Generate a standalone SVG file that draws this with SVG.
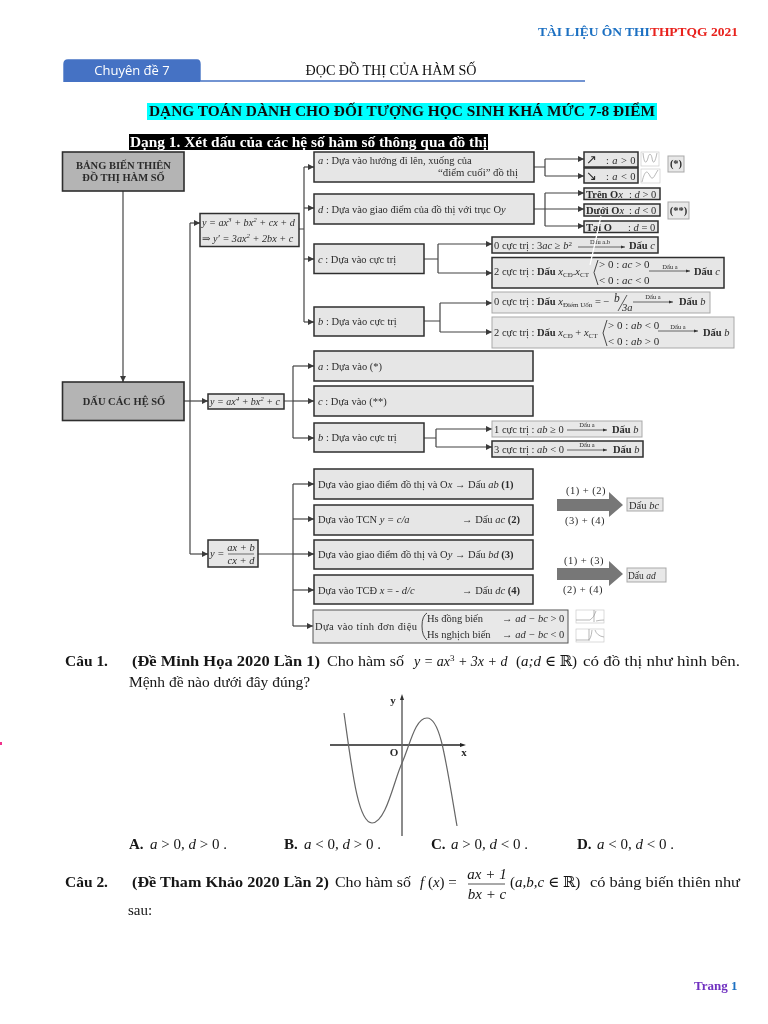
<svg xmlns="http://www.w3.org/2000/svg" width="768" height="1024" viewBox="0 0 768 1024">
<style>
text{font-family:"Liberation Serif","DejaVu Serif",serif;fill:#2b2b2b;font-size:10.5px}
.b{font-weight:bold}
.i{font-style:italic}
.n{font-weight:normal}
.sub{font-size:7px}
.tiny{font-size:6.5px;text-anchor:middle}
.hd{font-size:14px;fill:#111}
.body{font-size:15px;fill:#151515}
.box{fill:#e6e6e6;stroke:#2e2e2e;stroke-width:1.5}
.lite{fill:#e8e8e8;stroke:#a9a9a9;stroke-width:1}
.main{fill:#b4b4b4;stroke:#2e2e2e;stroke-width:1.6}
.ln{fill:none;stroke:#444;stroke-width:1.2}
.ah{fill:none;stroke:#444;stroke-width:1.2;marker-end:url(#a)}
.thin{fill:none;stroke:#444;stroke-width:.8;marker-end:url(#s)}
.ic{fill:#fff;stroke:#ccc;stroke-width:.7}
.icl{fill:none;stroke:#999;stroke-width:.7}
.br{fill:none;stroke:#333;stroke-width:.9}
.fat{fill:#777}
</style>
<defs>
<filter id="soft" x="0" y="0" width="100%" height="100%"><feGaussianBlur stdDeviation="0.35"/></filter>
<marker id="a" markerUnits="userSpaceOnUse" markerWidth="6" markerHeight="6" refX="6" refY="3" orient="auto"><path d="M0,0L6,3L0,6Z" fill="#3a3a3a"/></marker>
<marker id="s" markerUnits="userSpaceOnUse" markerWidth="4" markerHeight="4" refX="4" refY="2" orient="auto"><path d="M0,.5L4,2L0,3.5Z" fill="#333"/></marker>
</defs>
<rect width="768" height="1024" fill="#fff"/>
<g filter="url(#soft)">
<g id="header">
<text x="538" y="36" class="b" style="font-size:13.500px;fill:#1b6fc2" textLength="200" lengthAdjust="spacingAndGlyphs">TÀI LIỆU ÔN THI<tspan style="fill:#e8201c">THPTQG 2021</tspan></text>
<path d="M64,82V64Q64,60 68,60H197Q200,60 200,64V81H585" fill="none" stroke="#4472c4" stroke-width="1.4"/>
<path d="M64,82V64Q64,60 68,60H197Q200,60 200,64V82Z" fill="#4472c4"/>
<text x="132" y="75" text-anchor="middle" style="font-family:'Open Sans','DejaVu Sans',sans-serif;font-size:13px;fill:#fff">Chuyên đề 7</text>
<text x="391" y="75" text-anchor="middle" class="hd" textLength="171" lengthAdjust="spacingAndGlyphs">ĐỌC ĐỒ THỊ CỦA HÀM SỐ</text>
<rect x="147" y="103" width="510" height="17" fill="#00ffff"/>
<text x="402" y="116" text-anchor="middle" class="b" style="font-size:15px;fill:#111" textLength="506" lengthAdjust="spacingAndGlyphs">DẠNG TOÁN DÀNH CHO ĐỐI TƯỢNG HỌC SINH KHÁ MỨC 7-8 ĐIỂM</text>
<rect x="129" y="134" width="359" height="16" fill="#000"/>
<text x="130" y="147" class="b" style="font-size:15px;fill:#fff" textLength="357" lengthAdjust="spacingAndGlyphs">Dạng 1. Xét dấu của các hệ số hàm số thông qua đồ thị</text>
</g>

<g id="connectors">
<path class="ah" d="M123,191V382"/>
<path class="ln" d="M190,223V554"/>
<path class="ah" d="M190,223H200"/>
<path class="ah" d="M184,401H208"/>
<path class="ah" d="M190,554H208"/>
<path class="ln" d="M299,229H304M304,167V322"/>
<path class="ah" d="M304,167H314"/><path class="ah" d="M304,208H314"/><path class="ah" d="M304,259H314"/><path class="ah" d="M304,322H314"/>
<path class="ln" d="M284,401H293M293,366V438"/>
<path class="ah" d="M293,366H314"/><path class="ah" d="M293,401H314"/><path class="ah" d="M293,438H314"/>
<path class="ln" d="M258,554H293M293,484V626"/>
<path class="ah" d="M293,484H314"/><path class="ah" d="M293,519H314"/><path class="ah" d="M293,554H314"/><path class="ah" d="M293,590H314"/><path class="ah" d="M293,626H313"/>
<path class="ln" d="M534,167H545M545,159V176"/>
<path class="ah" d="M545,159H584"/><path class="ah" d="M545,176H584"/>
<path class="ln" d="M534,209H545M545,193V226"/>
<path class="ah" d="M545,193H584"/><path class="ah" d="M545,209H584"/><path class="ah" d="M545,226H584"/>
<path class="ln" d="M424,259H438M438,244V273"/>
<path class="ah" d="M438,244H492"/><path class="ah" d="M438,273H492"/>
<path class="ln" d="M424,321H440M440,303V332"/>
<path class="ah" d="M440,303H492"/><path class="ah" d="M440,332H492"/>
<path class="ln" d="M424,438H436M436,429V447"/>
<path class="ah" d="M436,429H492"/><path class="ah" d="M436,447H492"/>
</g>

<g id="n-bbt"><rect class="main" x="62.500" y="152" width="121.500" height="39"/>
<text x="123.500" y="169" text-anchor="middle" class="b">BẢNG BIẾN THIÊN</text><text x="123.500" y="181" text-anchor="middle" class="b">ĐỒ THỊ HÀM SỐ</text></g>
<g id="n-dau"><rect class="main" x="62.500" y="382" width="121.500" height="38.500"/>
<text x="124" y="405" text-anchor="middle" class="b">DẤU CÁC HỆ SỐ</text></g>

<g id="n-f1"><rect class="box" x="200" y="213.500" width="99" height="33"/>
<text x="202" y="226" class="i" style="font-size:10.200px">y = ax<tspan dy="-4" style="font-size:7px">3</tspan><tspan dy="4"> + bx</tspan><tspan dy="-4" style="font-size:7px">2</tspan><tspan dy="4"> + cx + d</tspan></text>
<text x="202" y="242" class="i" style="font-size:10.200px">⇒ y′ = 3ax<tspan dy="-4" style="font-size:7px">2</tspan><tspan dy="4"> + 2bx + c</tspan></text></g>
<g id="n-f2"><rect class="box" x="208" y="394" width="76" height="15"/>
<text x="210" y="405" class="i" style="font-size:10px">y = ax<tspan dy="-4" style="font-size:7px">4</tspan><tspan dy="4"> + bx</tspan><tspan dy="-4" style="font-size:7px">2</tspan><tspan dy="4"> + c</tspan></text></g>
<g id="n-f3"><rect class="box" x="208" y="540" width="50" height="27"/>
<text x="210" y="557" class="i">y =</text><path d="M228,554H254" stroke="#333" stroke-width=".7"/>
<text x="241" y="551" class="i" text-anchor="middle">ax + b</text><text x="241" y="564" class="i" text-anchor="middle">cx + d</text></g>

<g id="n-a"><rect class="box" x="314" y="152" width="220" height="30"/>
<text x="318" y="164"><tspan class="i">a</tspan> : Dựa vào hướng đi lên, xuống của</text><text x="438" y="176" textLength="80" lengthAdjust="spacingAndGlyphs">“điểm cuối” đồ thị</text></g>
<g id="n-d"><rect class="box" x="314" y="194" width="220" height="30"/>
<text x="318" y="213"><tspan class="i">d</tspan> : Dựa vào giao điểm của đồ thị với trục O<tspan class="i">y</tspan></text></g>
<g id="n-c"><rect class="box" x="314" y="244" width="110" height="29.500"/>
<text x="318" y="263"><tspan class="i">c</tspan> : Dựa vào cực trị</text></g>
<g id="n-b"><rect class="box" x="314" y="307" width="110" height="29"/>
<text x="318" y="325"><tspan class="i">b</tspan> : Dựa vào cực trị</text></g>

<g id="n-up"><rect class="box" x="584" y="152" width="54" height="15"/>
<text x="586" y="164" style="font-family:'DejaVu Sans',sans-serif;font-size:13px">↗</text><text x="606" y="164" style="letter-spacing:.4px">: <tspan class="i">a</tspan> &gt; 0</text></g>
<g id="n-down"><rect class="box" x="584" y="168" width="54" height="15"/>
<text x="586" y="180" style="font-family:'DejaVu Sans',sans-serif;font-size:13px">↘</text><text x="606" y="180" style="letter-spacing:.4px">: <tspan class="i">a</tspan> &lt; 0</text></g>
<g id="n-icons-a"><rect class="ic" x="641" y="152" width="18" height="14"/><path class="icl" d="M643,153C644,163 646,165 648,158C649,153 651,153 652,158C653,165 655,163 657,153"/>
<rect class="ic" x="641" y="169" width="19" height="14"/><path class="icl" d="M642,182C645,170 647,170 650,176C653,182 655,174 658,170"/></g>
<g id="n-star"><rect class="lite" x="668" y="156" width="16" height="16"/><text x="676" y="167" text-anchor="middle" class="b">(*)</text></g>
<g id="n-tren"><rect class="box" x="584" y="188" width="76" height="11.500"/><text x="586" y="197.500" class="b">Trên O<tspan class="i n">x</tspan></text><text x="629" y="197.500">: <tspan class="i">d</tspan> &gt; 0</text></g>
<g id="n-duoi"><rect class="box" x="584" y="204" width="76" height="12"/><text x="586" y="213.500" class="b">Dưới O<tspan class="i n">x</tspan></text><text x="629" y="213.500">: <tspan class="i">d</tspan> &lt; 0</text></g>
<g id="n-tai"><rect class="box" x="584" y="221" width="74" height="11.500"/><text x="586" y="230.500" class="b">Tại O</text><text x="628" y="230.500">: <tspan class="i">d</tspan> = 0</text></g>
<g id="n-star2"><rect class="lite" x="668" y="202" width="21" height="17"/><text x="678.500" y="214" text-anchor="middle" class="b">(**)</text></g>

<g id="n-c0"><rect class="box" x="492" y="237" width="166" height="16"/>
<text x="494" y="249">0 cực trị : 3<tspan class="i">ac</tspan> ≥ <tspan class="i">b</tspan><tspan dy="-3" style="font-size:7px">2</tspan></text>
<text x="600" y="244" class="tiny">Dấu a.b</text><path class="thin" d="M578,247H625"/>
<text x="629" y="249" class="b">Dấu <tspan class="i n">c</tspan></text></g>
<g id="n-c2"><rect class="box" x="492" y="257.500" width="232" height="30.500"/>
<text x="494" y="275">2 cực trị : <tspan class="b">Dấu</tspan> <tspan class="i">x</tspan><tspan class="sub" dy="2">CĐ</tspan><tspan dy="-2">.</tspan><tspan class="i">x</tspan><tspan class="sub" dy="2">CT</tspan></text>
<path class="br" d="M598,260L594,272.500L598,285"/>
<text x="599" y="268" style="font-size:11px">&gt; 0 : <tspan class="i">ac</tspan> &gt; 0</text><text x="599" y="283.500" style="font-size:11px">&lt; 0 : <tspan class="i">ac</tspan> &lt; 0</text>
<text x="670" y="269" class="tiny">Dấu a</text><path class="thin" d="M649,271H690"/>
<text x="694" y="275" class="b">Dấu <tspan class="i n">c</tspan></text></g>
<g id="n-b0"><rect class="lite" x="492" y="292" width="218" height="21"/>
<text x="494" y="305">0 cực trị : <tspan class="b">Dấu</tspan> <tspan class="i">x</tspan><tspan class="sub" dy="2">Điểm Uốn</tspan><tspan dy="-2"> = −</tspan></text>
<text x="614" y="302" class="i" style="font-size:11.500px">b</text><path d="M627,295L618,311" stroke="#333" stroke-width=".8"/><text x="622" y="311" class="i">3a</text>
<text x="653" y="299" class="tiny">Dấu a</text><path class="thin" d="M633,302H673"/>
<text x="679" y="305" class="b">Dấu <tspan class="i n">b</tspan></text></g>
<g id="n-b2"><rect class="lite" x="492" y="317" width="242" height="31"/>
<text x="494" y="336">2 cực trị : <tspan class="b">Dấu</tspan> <tspan class="i">x</tspan><tspan class="sub" dy="2">CĐ</tspan><tspan dy="-2"> + </tspan><tspan class="i">x</tspan><tspan class="sub" dy="2">CT</tspan></text>
<path class="br" d="M607,320L603,333L607,346"/>
<text x="608" y="329" style="font-size:11px">&gt; 0 : <tspan class="i">ab</tspan> &lt; 0</text><text x="608" y="344.500" style="font-size:11px">&lt; 0 : <tspan class="i">ab</tspan> &gt; 0</text>
<text x="678" y="329" class="tiny">Dấu a</text><path class="thin" d="M658,331H698"/>
<text x="703" y="336" class="b">Dấu <tspan class="i n">b</tspan></text></g>

<g id="n-a2"><rect class="box" x="314" y="351" width="219" height="30"/><text x="318" y="370"><tspan class="i">a</tspan> :  Dựa vào (*)</text></g>
<g id="n-c3"><rect class="box" x="314" y="386" width="219" height="30"/><text x="318" y="405"><tspan class="i">c</tspan> : Dựa vào (**)</text></g>
<g id="n-b3"><rect class="box" x="314" y="423" width="110" height="29"/><text x="318" y="441"><tspan class="i">b</tspan> : Dựa vào cực trị</text></g>
<g id="n-1ct"><rect class="lite" x="492" y="421" width="150" height="16"/>
<text x="494" y="433">1 cực trị : <tspan class="i">ab</tspan> ≥ 0</text><text x="587" y="427" class="tiny">Dấu a</text><path class="thin" d="M567,430H607"/><text x="612" y="433" class="b">Dấu <tspan class="i n">b</tspan></text></g>
<g id="n-3ct"><rect class="box" x="492" y="441" width="151" height="16"/>
<text x="494" y="453">3 cực trị : <tspan class="i">ab</tspan> &lt; 0</text><text x="587" y="447" class="tiny">Dấu a</text><path class="thin" d="M567,450H607"/><text x="613" y="453" class="b">Dấu <tspan class="i n">b</tspan></text></g>

<g id="n-r1"><rect class="box" x="314" y="469" width="219" height="30"/><text x="318" y="488">Dựa vào giao điểm đồ thị và O<tspan class="i">x</tspan> → Dấu <tspan class="i">ab</tspan>  <tspan class="b">(1)</tspan></text></g>
<g id="n-r2"><rect class="box" x="314" y="505" width="219" height="30"/><text x="318" y="523">Dựa vào TCN  <tspan class="i">y = c/a</tspan></text><text x="462" y="523">→ Dấu <tspan class="i">ac</tspan>  <tspan class="b">(2)</tspan></text></g>
<g id="n-r3"><rect class="box" x="314" y="540" width="219" height="29"/><text x="318" y="558">Dựa vào giao điểm đồ thị và O<tspan class="i">y</tspan> → Dấu <tspan class="i">bd</tspan>  <tspan class="b">(3)</tspan></text></g>
<g id="n-r4"><rect class="box" x="314" y="575" width="219" height="29"/><text x="318" y="594">Dựa vào TCĐ <tspan class="i">x</tspan> = - <tspan class="i">d/c</tspan></text><text x="462" y="594">→ Dấu <tspan class="i">dc</tspan>  <tspan class="b">(4)</tspan></text></g>
<g id="n-r5"><rect class="lite" x="313" y="610" width="255" height="33" style="stroke:#555"/>
<text x="315" y="630" textLength="102" lengthAdjust="spacing">Dựa vào tính đơn điệu</text>
<path class="br" d="M427,613Q422,616 422,626Q422,636 427,640"/>
<text x="427" y="622">Hs đồng biến</text><text x="502" y="622">→ <tspan class="i">ad − bc</tspan> &gt; 0</text>
<text x="427" y="638">Hs nghịch biến</text><text x="502" y="638">→ <tspan class="i">ad − bc</tspan> &lt; 0</text></g>
<g id="n-icons-r"><rect class="ic" x="576" y="610" width="28" height="13"/><path class="icl" d="M576,620H590Q594,618 596,611M594,610V622M596,621Q600,620 604,620"/>
<rect class="ic" x="576" y="629" width="28" height="13"/><path class="icl" d="M576,640H588Q591,640 592,630M589,629V641M595,630Q597,636 604,637"/></g>

<g id="n-arrow1">
<text x="586" y="494" text-anchor="middle" style="letter-spacing:.5px">(1) + (2)</text><text x="585" y="524" text-anchor="middle" style="letter-spacing:.5px">(3) + (4)</text>
<path class="fat" d="M557,499H609V492L623,505L609,517V511H557Z"/></g>
<g id="n-bc"><rect class="lite" x="627" y="498" width="36" height="13"/><text x="629" y="508.500">Dấu <tspan class="i">bc</tspan></text></g>
<g id="n-arrow2">
<text x="584" y="564" text-anchor="middle" style="letter-spacing:.5px">(1) + (3)</text><text x="583" y="593" text-anchor="middle" style="letter-spacing:.5px">(2) + (4)</text>
<path class="fat" d="M557,568H609V561L623,574L609,586V580H557Z"/></g>
<g id="n-ad"><rect class="lite" x="627" y="568" width="39" height="14"/><text x="628" y="578.500" style="font-size:9.500px">Dấu <tspan class="i">ad</tspan></text></g>

<path d="M601,216L593,252L590,265" fill="none" stroke="#fff" stroke-width="1.200"/>

<g id="cau1">
<text x="65" y="666" class="body b" textLength="43" lengthAdjust="spacingAndGlyphs">Câu 1.</text>
<text x="132" y="666" class="body b" textLength="188" lengthAdjust="spacingAndGlyphs">(Đề Minh Họa 2020 Lần 1)</text>
<text x="327" y="666" class="body" textLength="77" lengthAdjust="spacingAndGlyphs">Cho hàm số</text>
<text x="414" y="666" class="body i" style="font-size:14px">y = ax<tspan dy="-5" style="font-size:9px;font-style:normal">3</tspan><tspan dy="5"> + 3x + d</tspan></text>
<text x="516" y="666" class="body">(<tspan class="i">a;d</tspan> ∈ ℝ)</text>
<text x="583" y="666" class="body" textLength="157" lengthAdjust="spacingAndGlyphs">có đồ thị như hình bên.</text>
<text x="129" y="687" class="body" textLength="181" lengthAdjust="spacingAndGlyphs">Mệnh đề nào dưới đây đúng?</text>
</g>
<g id="graph">
<path d="M330,745H462" stroke="#222" stroke-width="1.300"/><path d="M466,745L460,743V747Z" fill="#222"/>
<path d="M402,836V698" stroke="#666" stroke-width="1.500"/><path d="M402,694L400,700H404Z" fill="#333"/>
<path d="M344,713C352,770 358,823 372,823C386,823 394,780 402,763C410,745 415,718 427,718C440,718 445,755 457,826" fill="none" stroke="#666" stroke-width="1.200"/>
<text x="393" y="704" text-anchor="middle" class="b" style="font-size:11px">y</text>
<text x="394" y="756" text-anchor="middle" class="b" style="font-size:11px">O</text>
<text x="464" y="756" text-anchor="middle" class="b" style="font-size:11px">x</text>
</g>
<g id="answers">
<text x="129" y="849" class="body b">A.</text><text x="150" y="849" class="body"><tspan class="i">a</tspan> &gt; 0, <tspan class="i">d</tspan> &gt; 0 .</text>
<text x="284" y="849" class="body b">B.</text><text x="304" y="849" class="body"><tspan class="i">a</tspan> &lt; 0, <tspan class="i">d</tspan> &gt; 0 .</text>
<text x="431" y="849" class="body b">C.</text><text x="451" y="849" class="body"><tspan class="i">a</tspan> &gt; 0, <tspan class="i">d</tspan> &lt; 0 .</text>
<text x="577" y="849" class="body b">D.</text><text x="597" y="849" class="body"><tspan class="i">a</tspan> &lt; 0, <tspan class="i">d</tspan> &lt; 0 .</text>
</g>
<g id="cau2">
<text x="65" y="887" class="body b" textLength="43" lengthAdjust="spacingAndGlyphs">Câu 2.</text>
<text x="132" y="887" class="body b" textLength="197" lengthAdjust="spacingAndGlyphs">(Đề Tham Khảo 2020 Lần 2)</text>
<text x="335" y="887" class="body" textLength="76" lengthAdjust="spacingAndGlyphs">Cho hàm số</text>
<text x="420" y="887" class="body"><tspan class="i">f</tspan> (<tspan class="i">x</tspan>) =</text>
<path d="M468,884H505" stroke="#222" stroke-width=".8"/>
<text x="487" y="879" class="body i" text-anchor="middle">ax + 1</text><text x="487" y="899" class="body i" text-anchor="middle">bx + c</text>
<text x="510" y="887" class="body">(<tspan class="i">a,b,c</tspan> ∈ ℝ)</text>
<text x="590" y="887" class="body" textLength="150" lengthAdjust="spacingAndGlyphs">có bảng biến thiên như</text>
<text x="128" y="915" class="body">sau:</text>
</g>
<g id="footer">
<text x="694" y="990" class="b" style="font-size:13px;fill:#7030c0">Trang <tspan style="fill:#1b6fc2">1</tspan></text>
<rect x="0" y="742" width="2" height="3" fill="#f0308c"/>
</g>
</g>
</svg>
